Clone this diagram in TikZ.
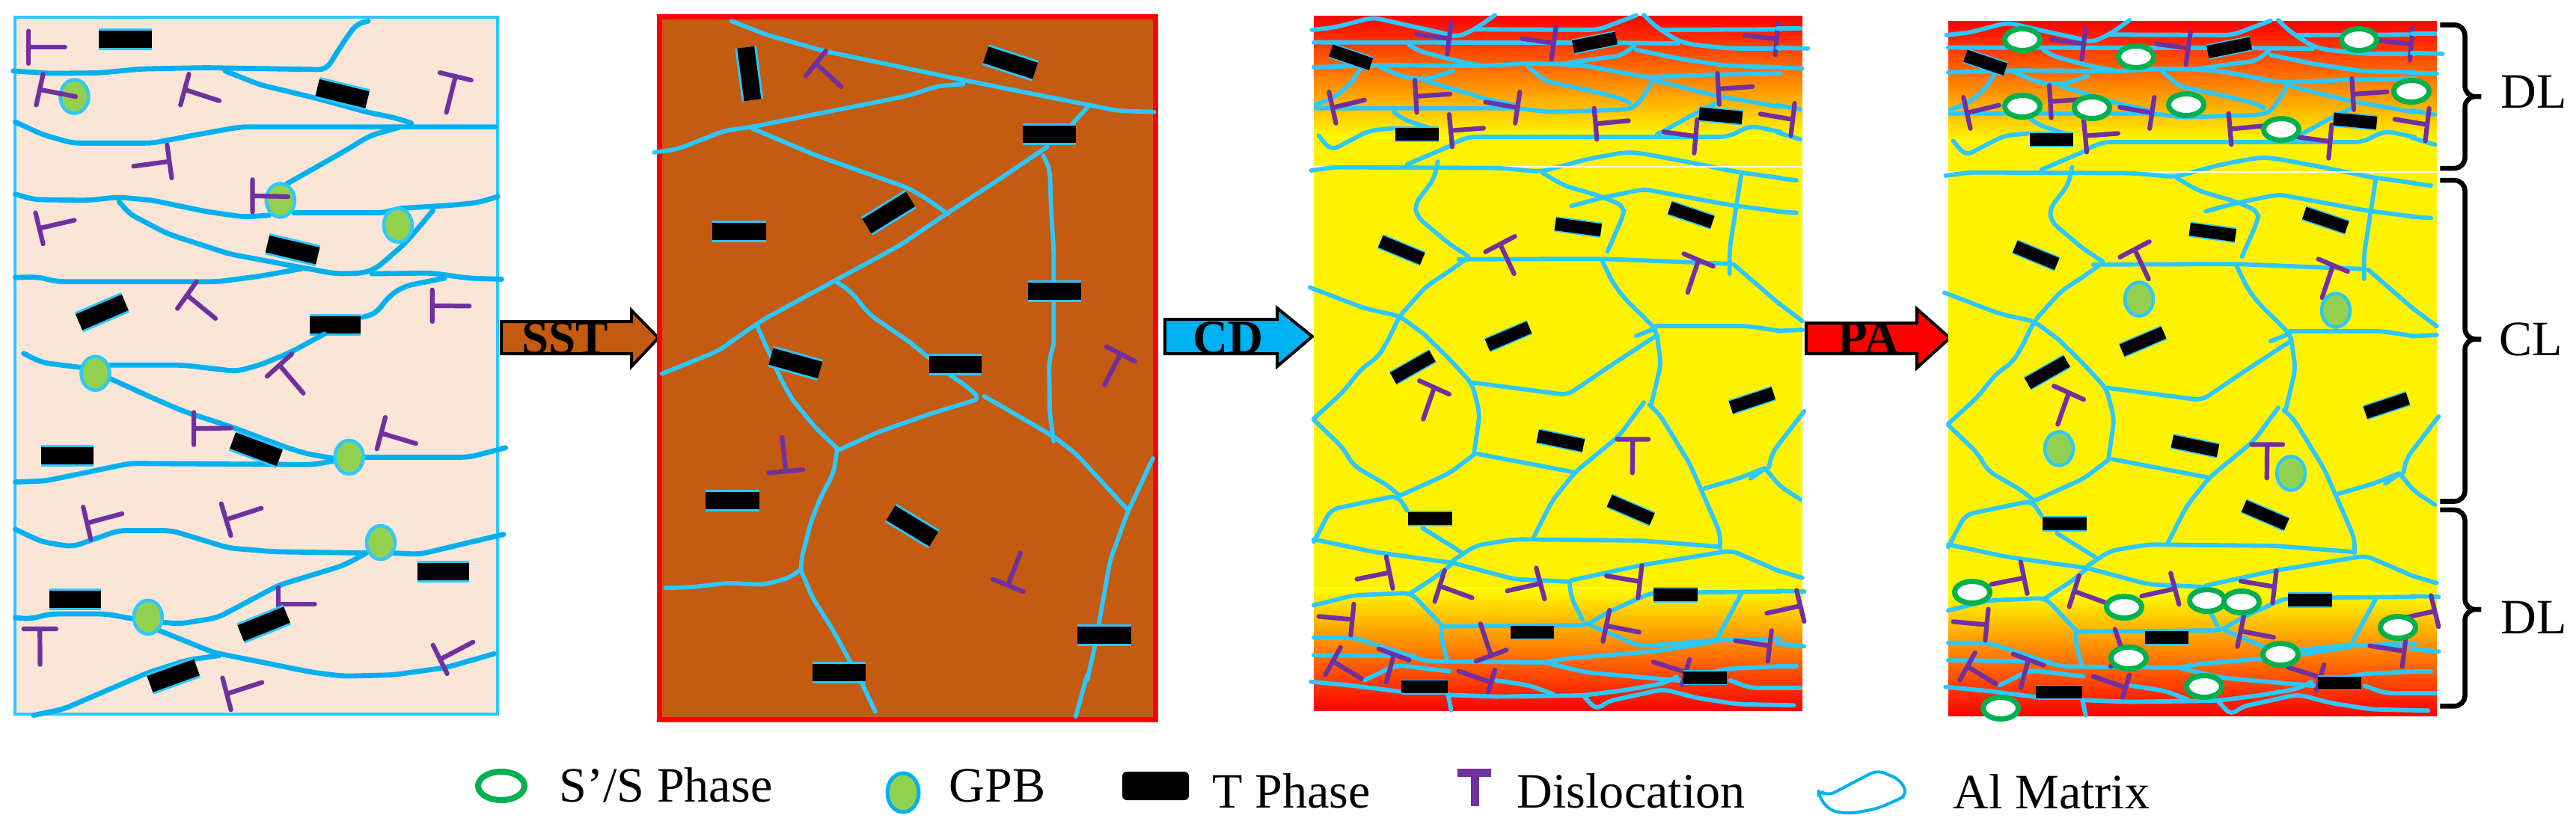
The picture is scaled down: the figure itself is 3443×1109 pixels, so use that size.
\documentclass[tikz,border=0pt]{standalone}
\usepackage{fontspec}
\setmainfont{Liberation Serif}
\usetikzlibrary{calc}
\definecolor{mapblue}{HTML}{00B0F0}
\definecolor{grainblue}{HTML}{2CC8FF}
\definecolor{dislpurple}{HTML}{7030A0}
\definecolor{gpbgreen}{HTML}{92D050}
\definecolor{sgreen}{HTML}{00B050}
\definecolor{peach}{HTML}{FBE5D6}
\definecolor{rust}{HTML}{C55A11}
\tikzset{
    cropA/.style 2 args={shift={(#1,#2)},x=0.0051cm,y=-0.003333cm},
    cropB/.style 2 args={shift={(#1,#2)},x=0.003333cm,y=-0.00574cm},
    cropC/.style 2 args={shift={(#1,#2)},x=0.00893cm,y=-0.003333cm},
    cropD/.style 2 args={shift={(#1,#2)},x=0.004464cm,y=-0.003333cm},
    grain/.style={draw=grainblue,line width=0.058cm,line cap=round,rounded corners=0.1cm},
    grainone/.style={grain,draw=mapblue,line width=0.068cm},
    disl/.style={draw=dislpurple,line width=0.062cm,line cap=round},
    tpo/.style={draw=grainblue,line width=0.29cm},
    tpi/.style={draw=black,line width=0.23cm},
    tso/.style={draw=grainblue,line width=0.205cm},
    tsi/.style={draw=black,line width=0.17cm},
    gpb/.style={draw=grainblue,line width=0.045cm,fill=gpbgreen},
    sring/.style={draw=sgreen,line width=0.07cm,fill=white},
    procarrow/.style={draw=black,line width=0.04cm,line join=miter},
    arrowlab/.style={font=\fontsize{18.5}{22}\selectfont\bfseries,inner sep=0pt,anchor=base},
    lab/.style={font=\fontsize{18.8}{22}\selectfont,inner sep=0pt,anchor=base west},
    brace/.style={draw=black,line width=0.065cm,rounded corners=0.14cm}
}
\newcommand{\tph}[2]{\draw[tpo] #1 -- #2; \draw[tpi] #1 -- #2;}
\newcommand{\tps}[2]{\draw[tso] #1 -- #2; \draw[tsi] #1 -- #2;}
\newcommand{\dsl}[3]{\draw[disl] #1 -- #2 ($#1!0.5!#2$) -- #3;}
\newcommand{\gpbat}[2]{\draw[gpb] (#1,#2) ellipse [x radius=0.19cm,y radius=0.225cm];}
\newcommand{\sat}[2]{\draw[sring] (#1,#2) ellipse [x radius=0.235cm,y radius=0.145cm];}
\newcommand{\zonemap}{%
    \shade[top color=red,bottom color=yellow] (1756,21) rectangle (2409,186);
    \fill[yellow] (1756,186) rectangle (2409,222);
    \fill[yellow] (1756,224) rectangle (2409,785);
    \shade[top color=yellow,bottom color=red] (1756,785) rectangle (2409,950);
    \begin{scope}[cropA={1580}{0}]
        \draw[grain] (340,120) -- (400,110) -- (500,70) -- (600,105) -- (690,135) -- (720,150) -- (770,115) -- (820,60);
        \draw[grain] (770,118) -- (1090,120) -- (1190,62);
        \draw[grain] (1210,60) -- (1240,105) -- (1300,165) -- (1340,180) -- (1440,195) -- (1568,195);
        \draw[grain] (1260,120) -- (1568,118);
        \draw[grain] (345,170) -- (1140,172) -- (1300,175);
        \draw[grain] (595,180) -- (620,205) -- (720,245) -- (790,265);
        \draw[grain] (345,270) -- (520,262) -- (790,265) -- (900,255) -- (990,258) -- (1090,235) -- (1150,225) -- (1185,185);
        \draw[grain] (1190,200) -- (1300,235) -- (1430,265) -- (1568,270);
        \draw[grain] (990,258) -- (1060,265) -- (1215,310) -- (1400,300) -- (1568,295);
        \draw[grain] (1230,320) -- (1400,385) -- (1568,430);
        \draw[grain] (905,265) -- (950,325) -- (1100,375) -- (1160,400) -- (1175,415);
        \draw[grain] (1230,335) -- (1195,420) -- (1170,440) -- (960,450) -- (880,435) -- (350,435);
        \draw[grain] (465,280) -- (440,340) -- (395,395) -- (350,420);
        \draw[grain] (520,270) -- (580,310) -- (640,320) -- (710,285);
        \draw[grain] (640,325) -- (790,395) -- (880,425);
        \draw[grain] (555,450) -- (580,480) -- (650,515);
        \draw[grain] (358,545) -- (390,605) -- (490,525) -- (555,515);
        \draw[grain] (705,580) -- (750,550) -- (1430,550) -- (1490,505) -- (1568,530);
        \draw[grain] (590,660) -- (705,585);
        \draw[grain] (1245,540) -- (1340,460) -- (1400,415);
        \draw[grain] (338,685) -- (400,672) -- (830,675) -- (940,690) -- (1060,640) -- (1160,612) -- (1200,615) -- (1340,655) -- (1450,690) -- (1568,715);
        \draw[grain] (670,650) -- (660,720) -- (610,820) -- (615,870) -- (700,980) -- (750,1030);
        \draw[grain] (725,1042) -- (1100,1040) -- (1430,1060);
        \draw[grain] (945,695) -- (1000,745) -- (1100,790) -- (1160,830) -- (1155,870) -- (1115,1010);
        \draw[grain] (1020,828) -- (1100,795) -- (1210,760) -- (1440,825) -- (1568,850);
        \draw[grain] (1465,705) -- (1435,1000) -- (1435,1100);
        \draw[grain] (1445,1062) -- (1568,1225);
        \draw[grain] (745,1040) -- (700,1090) -- (640,1150) -- (570,1270) -- (545,1350);
        \draw[grain] (335,1155) -- (480,1240) -- (570,1270) -- (640,1350);
        \draw[grain] (1100,1045) -- (1130,1140) -- (1160,1200) -- (1240,1320) -- (1245,1350);
        \draw[grain] (1240,1310) -- (1480,1310) -- (1568,1330);
        \draw[grain] (1240,1320) -- (1190,1350);
        \dsl{(705,92)}{(695,218)}{(615,138)}
        \dsl{(980,108)}{(968,238)}{(890,155)}
        \dsl{(385,370)}{(403,495)}{(478,402)}
        \dsl{(610,322)}{(615,452)}{(702,378)}
        \dsl{(885,370)}{(873,495)}{(795,410)}
        \dsl{(1403,295)}{(1408,420)}{(1495,348)}
        \dsl{(1080,435)}{(1087,560)}{(1170,485)}
        \dsl{(700,460)}{(708,590)}{(790,515)}
        \dsl{(1350,480)}{(1342,615)}{(1262,530)}
        \dsl{(1562,92)}{(1555,220)}{(1475,142)}
        \dsl{(795,1012)}{(872,950)}{(870,1100)}
        \dsl{(1315,1020)}{(1392,1070)}{(1325,1175)}
        \tps{(390,203)}{(495,258)}
        \tps{(1025,188)}{(1138,153)}
        \tps{(558,540)}{(672,540)}
        \tps{(1355,457)}{(1468,473)}
        \tps{(520,970)}{(630,1040)}
        \tps{(978,900)}{(1098,925)}
        \tps{(1278,835)}{(1390,893)}
    \end{scope}
    \begin{scope}[cropA={1580}{450}]
        \draw[grain] (545,0) -- (515,80) -- (470,130) -- (420,225) -- (345,330);
        \draw[grain] (640,0) -- (700,90) -- (760,190) -- (780,310) -- (765,470);
        \draw[grain] (760,185) -- (1010,235) -- (1120,120) -- (1240,0);
        \draw[grain] (1245,0) -- (1255,110) -- (1230,270);
        \draw[grain] (345,335) -- (420,445) -- (450,520) -- (540,600) -- (570,640);
        \draw[grain] (570,640) -- (700,550) -- (765,475);
        \draw[grain] (775,472) -- (1025,545);
        \draw[grain] (1210,265) -- (1145,400) -- (1030,545) -- (970,660) -- (920,810);
        \draw[grain] (1225,275) -- (1250,310) -- (1330,510) -- (1410,790) -- (1410,850);
        \draw[grain] (345,825) -- (390,695) -- (530,650) -- (565,640) -- (590,700);
        \draw[grain] (345,815) -- (500,865) -- (710,910);
        \draw[grain] (630,770) -- (730,865);
        \draw[grain] (710,900) -- (770,840) -- (870,815) -- (1200,820) -- (1410,845);
        \draw[grain] (710,910) -- (870,975) -- (1010,985);
        \draw[grain] (1015,985) -- (1020,1050) -- (1050,1140);
        \draw[grain] (1020,980) -- (1200,920) -- (1440,860) -- (1568,945);
        \draw[grain] (600,1030) -- (670,960) -- (710,910);
        \draw[grain] (345,1080) -- (450,1040) -- (600,1030) -- (680,1160);
        \draw[grain] (680,1165) -- (1060,1160) -- (1120,1105) -- (1230,1030) -- (1568,1025);
        \draw[grain] (680,1165) -- (680,1220) -- (695,1300);
        \draw[grain] (1070,1160) -- (1200,1245) -- (1400,1220) -- (1568,1215);
        \draw[grain] (1465,1035) -- (1400,1220);
        \draw[grain] (345,1210) -- (450,1210) -- (610,1290) -- (640,1305) -- (950,1310) -- (1000,1295) -- (1240,1265) -- (1400,1225);
        \draw[grain] (345,1280) -- (610,1285);
        \draw[grain] (480,1380) -- (560,1320) -- (700,1345);
        \draw[grain] (950,1310) -- (1060,1350) -- (1320,1385);
        \draw[grain] (1325,1370) -- (1430,1335) -- (1568,1325);
        \draw[grain] (1370,610) -- (1460,570) -- (1525,530);
        \dsl{(622,178)}{(700,232)}{(632,332)}
        \dsl{(1140,413)}{(1222,413)}{(1180,548)}
        \dsl{(535,885)}{(552,1012)}{(458,975)}
        \dsl{(688,940)}{(662,1065)}{(760,1050)}
        \dsl{(928,930)}{(950,1055)}{(852,1022)}
        \dsl{(1205,920)}{(1195,1050)}{(1112,962)}
        \dsl{(450,1075)}{(442,1200)}{(358,1125)}
        \dsl{(1120,1100)}{(1103,1225)}{(1198,1188)}
        \dsl{(770,1305)}{(850,1260)}{(782,1155)}
        \dsl{(1545,1182)}{(1535,1305)}{(1450,1222)}
        \dsl{(415,1250)}{(375,1360)}{(470,1375)}
        \dsl{(515,1255)}{(595,1300)}{(535,1390)}
        \dsl{(1330,1298)}{(1310,1400)}{(1235,1308)}
        \dsl{(820,1340)}{(800,1440)}{(725,1345)}
        \tps{(800,35)}{(910,-37)}
        \tps{(553,168)}{(656,78)}
        \tps{(932,400)}{(1052,438)}
        \tps{(1120,660)}{(1232,734)}
        \tps{(1438,285)}{(1550,228)}
        \tps{(592,732)}{(708,732)}
        \tps{(860,1188)}{(975,1188)}
        \tps{(1235,1038)}{(1352,1038)}
    \end{scope}
    \begin{scope}[cropA={2340}{0}]
        \draw[grain] (70,115) -- (130,115);
        \draw[grain] (70,192) -- (150,195);
        \draw[grain] (70,272) -- (135,275);
        \draw[grain] (70,422) -- (130,440);
        \draw[grain] (70,533) -- (130,560);
        \draw[grain] (70,715) -- (120,725);
        \draw[grain] (70,850) -- (120,855);
        \draw[grain] (70,1215) -- (135,1290);
        \draw[grain] (70,1330) -- (135,1325);
        \dsl{(115,415)}{(105,545)}{(25,458)}
    \end{scope}
    \begin{scope}[cropA={2340}{450}]
        \draw[grain] (140,300) -- (100,380) -- (55,470) -- (48,525);
        \draw[grain] (38,530) -- (75,600) -- (130,655);
        \draw[grain] (38,530) -- (0,570);
        \draw[grain] (70,940) -- (135,970);
        \draw[grain] (70,1022) -- (140,1025);
        \draw[grain] (70,1235) -- (140,1245);
        \draw[grain] (70,1325) -- (120,1325);
        \dsl{(120,1020)}{(140,1145)}{(42,1112)}
    \end{scope}
    \begin{scope}[cropC={600}{900}]
        \draw[grain] (1290,35) -- (1350,50) -- (1425,75);
        \draw[grain] (1495,88) -- (1568,95);
        \draw[grain] (1495,85) -- (1500,150);
        \tps{(1425,57)}{(1495,57)}
    \end{scope}
    \begin{scope}[cropC={2000}{900}]
        \draw[grain] (0,95) -- (130,90) -- (190,70) -- (250,42) -- (270,15);
        \draw[grain] (130,90) -- (150,150) -- (165,115) -- (250,65) -- (300,100) -- (360,125) -- (445,130);
        \draw[grain] (0,30) -- (50,50) -- (85,85);
        \draw[grain] (350,30) -- (380,60) -- (455,60);
        \tps{(280,18)}{(345,18)}
    \end{scope}
    \draw[white,line width=0.02cm] (2050,223) -- (2409,223);
}
\begin{document}
\begin{tikzpicture}[x=0.01cm,y=-0.01cm]
    \useasboundingbox (0,0) rectangle (3443,1109);
    \draw[fill=peach,draw=grainblue,line width=0.04cm] (20,23) rectangle (665,955);
    \begin{scope}[cropA={0}{0}]
        \dsl{(75,125)}{(75,255)}{(170,190)}
        \draw[grainone] (35,285) -- (130,295) -- (260,293) -- (370,277) -- (540,272) -- (855,280) -- (900,170) -- (935,95) -- (965,85);
        \draw[grainone] (590,285) -- (680,340) -- (830,395) -- (960,450) -- (1040,475) -- (1078,495);
        \draw[grainone] (40,490) -- (110,540) -- (190,575) -- (400,575) -- (520,540) -- (630,510) -- (1298,510);
        \draw[grainone] (1050,510) -- (970,545) -- (900,610) -- (750,740);
        \draw[grainone] (40,780) -- (90,802) -- (230,805) -- (310,792) -- (400,805) -- (540,850) -- (640,872) -- (705,865);
        \draw[grainone] (770,855) -- (1010,855) -- (1040,838) -- (1180,825) -- (1250,815) -- (1305,790);
        \draw[grainone] (312,810) -- (340,860) -- (440,940) -- (600,1020) -- (790,1075) -- (880,1100) -- (950,1098) -- (985,1080) -- (1060,980) -- (1100,910) -- (1135,845);
        \draw[grainone] (40,1115) -- (100,1113) -- (150,1132) -- (570,1132) -- (680,1110) -- (790,1080);
        \draw[grainone] (975,1100) -- (1130,1097) -- (1230,1118) -- (1315,1122);
        \draw[grainone] (1165,1118) -- (1060,1150) -- (1020,1190) -- (985,1260) -- (950,1275);
        \gpbat{195}{388}
        \gpbat{735}{805}
        \gpbat{1043}{905}
        \dsl{(113,298)}{(95,422)}{(198,388)}
        \dsl{(495,298)}{(473,422)}{(575,405)}
        \dsl{(1153,292)}{(1235,322)}{(1170,452)}
        \dsl{(438,582)}{(450,715)}{(350,668)}
        \dsl{(662,722)}{(662,852)}{(755,790)}
        \dsl{(93,855)}{(113,980)}{(195,885)}
        \dsl{(515,1132)}{(465,1240)}{(565,1280)}
        \dsl{(1133,1165)}{(1133,1292)}{(1230,1230)}
        \tph{(258,158)}{(398,158)}
        \tph{(832,352)}{(963,401)}
        \tph{(701,980)}{(833,1028)}
        \tph{(207,1295)}{(328,1215)}
        \tph{(812,1305)}{(945,1305)}
    \end{scope}
    \begin{scope}[cropA={0}{450}]
        \draw[grainone] (850,-10) -- (760,65) -- (680,115) -- (620,140) -- (480,115) -- (290,115);
        \draw[grainone] (62,68) -- (110,105) -- (215,125);
        \draw[grainone] (290,170) -- (390,240) -- (480,300) -- (610,365) -- (740,440) -- (800,470) -- (875,490);
        \draw[grainone] (40,585) -- (120,580) -- (340,510) -- (820,515) -- (875,500);
        \draw[grainone] (950,485) -- (1230,485) -- (1280,465) -- (1325,447);
        \draw[grainone] (40,775) -- (110,825) -- (190,845) -- (310,780) -- (450,780) -- (600,850) -- (720,865) -- (960,870);
        \draw[grainone] (1030,870) -- (1100,875) -- (1320,795);
        \draw[grainone] (955,875) -- (900,920) -- (730,1000) -- (570,1130) -- (470,1155) -- (425,1148);
        \draw[grainone] (40,1130) -- (80,1135) -- (130,1115) -- (280,1115) -- (350,1135);
        \draw[grainone] (415,1180) -- (560,1270) -- (820,1350) -- (900,1365) -- (1030,1360) -- (1170,1330) -- (1295,1275);
        \gpbat{250}{148}
        \gpbat{915}{485}
        \gpbat{998}{828}
        \gpbat{388}{1128}
        \dsl{(765,70)}{(700,160)}{(795,228)}
        \dsl{(508,305)}{(508,435)}{(605,368)}
        \dsl{(1010,325)}{(988,452)}{(1090,430)}
        \dsl{(218,685)}{(238,815)}{(320,712)}
        \dsl{(580,672)}{(605,800)}{(685,690)}
        \dsl{(730,1010)}{(730,1140)}{(825,1075)}
        \dsl{(62,1175)}{(147,1175)}{(105,1318)}
        \dsl{(1135,1240)}{(1172,1355)}{(1240,1228)}
        \tph{(108,478)}{(245,478)}
        \tph{(610,418)}{(733,488)}
        \tph{(1095,945)}{(1230,945)}
        \tph{(130,1055)}{(265,1055)}
        \tph{(631,1193)}{(752,1118)}
    \end{scope}
    \begin{scope}[cropD={0}{880}]
        \draw[grainone] (655,-10) -- (560,8) -- (440,60) -- (190,205) -- (100,230);
        \dsl{(665,80)}{(690,208)}{(783,98)}
        \tph{(448,105)}{(588,37)}
    \end{scope}
    \draw[procarrow,fill=rust] (670,430) -- (844,430) -- (844,415) -- (880,452) -- (844,490) -- (844,473) -- (670,473) -- cycle;
    \draw[procarrow,fill=mapblue] (1557,427) -- (1707,427) -- (1707,412) -- (1754,450) -- (1707,490) -- (1707,473) -- (1557,473) -- cycle;
    \draw[procarrow,fill=red] (2414,432) -- (2562,432) -- (2562,413) -- (2606,452) -- (2562,492) -- (2562,473) -- (2414,473) -- cycle;
    \node[arrowlab] (sst) at (755,473) {SST};
    \node[arrowlab] (cd) at (1641,473) {CD};
    \node[arrowlab] (pa) at (2497,473) {PA};
    \draw[fill=rust,draw=red,line width=0.07cm] (881.5,22.5) rectangle (1544.5,962.5);
    \begin{scope}[cropA={780}{0}]
        \draw[grain] (388,85) -- (480,140) -- (630,205) -- (990,320) -- (1400,445) -- (1495,450);
        \draw[grain] (185,612) -- (245,600) -- (370,525) -- (440,510) -- (850,385) -- (930,345) -- (995,338);
        \draw[grain] (440,515) -- (610,625) -- (850,755) -- (900,800) -- (955,860);
        \draw[grain] (1320,432) -- (1280,500);
        \draw[grain] (1215,590) -- (1080,730) -- (950,860) -- (830,985) -- (470,1285) -- (380,1380);
        \draw[grain] (1205,625) -- (1222,680) -- (1225,830) -- (1232,1000) -- (1232,1380);
        \draw[grain] (660,1130) -- (700,1170) -- (750,1265) -- (860,1380);
        \draw[grain] (455,1310) -- (475,1380);
        \dsl{(635,205)}{(582,305)}{(675,348)}
        \tph{(1152,540)}{(1290,540)}
        \tph{(1165,1170)}{(1305,1170)}
        \tph{(425,190)}{(443,402)}
        \tph{(1054,220)}{(1184,285)}
        \tph{(857,800)}{(742,909)}
        \tph{(338,930)}{(478,930)}
    \end{scope}
    \begin{scope}[cropA={780}{450}]
        \draw[grain] (380,30) -- (350,60) -- (205,150);
        \draw[grain] (475,30) -- (495,90) -- (510,150) -- (545,250) -- (610,370) -- (665,450);
        \draw[grain] (860,30) -- (905,85);
        \draw[grain] (960,155) -- (1000,195) -- (1040,250) -- (920,305) -- (770,385) -- (670,455);
        \draw[grain] (665,455) -- (655,550) -- (620,650) -- (595,750) -- (570,900) -- (570,940);
        \draw[grain] (215,1010) -- (280,1008) -- (380,990) -- (470,998) -- (540,970) -- (570,935);
        \draw[grain] (570,940) -- (600,1050) -- (650,1170) -- (700,1310);
        \draw[grain] (1232,30) -- (1220,100) -- (1222,310) -- (1232,420);
        \draw[grain] (1050,240) -- (1230,400) -- (1290,470) -- (1425,695);
        \draw[grain] (1492,490) -- (1425,710) -- (1380,900) -- (1350,1160);
        \draw[grain] (1340,1245) -- (1320,1380);
        \dsl{(1370,40)}{(1445,100)}{(1365,195)}
        \dsl{(485,548)}{(575,535)}{(520,405)}
        \dsl{(1072,975)}{(1152,1025)}{(1145,870)}
        \tph{(320,660)}{(460,660)}
        \tph{(905,112)}{(1043,112)}
        \tph{(491,80)}{(620,135)}
        \tph{(805,709)}{(918,814)}
        \tph{(1295,1200)}{(1435,1200)}
        \tph{(600,1350)}{(740,1350)}
    \end{scope}
    \begin{scope}[cropC={600}{900}]
        \draw[grain] (955,10) -- (938,175);
        \draw[grain] (618,40) -- (638,155);
    \end{scope}
    \zonemap
    \begin{scope}[shift={(848,7)}]
        \zonemap
    \end{scope}
    \gpbat{2859}{400}
    \gpbat{3122}{415}
    \gpbat{2752}{600}
    \gpbat{3062}{633}
    \sat{2703}{53}
    \sat{2855}{76}
    \sat{2703}{142}
    \sat{2796}{144}
    \sat{2922}{140}
    \sat{3049}{173}
    \sat{3153}{53}
    \sat{3223}{122}
    \sat{2636}{792}
    \sat{2839}{812}
    \sat{2950}{803}
    \sat{2996}{805}
    \sat{2845}{880}
    \sat{3048}{875}
    \sat{3205}{839}
    \sat{2946}{918}
    \sat{2674}{947}
    \begin{scope}[cropB={3000}{0}]
        \draw[brace] (785,58) -- (885,58) -- (885,225) -- (975,225) -- (885,225) -- (885,392) -- (785,392);
        \draw[brace] (785,420) -- (885,420) -- (885,790) -- (975,790) -- (885,790) -- (885,1168) -- (785,1168);
        \draw[brace] (785,1188) -- (885,1188) -- (885,1420) -- (975,1420) -- (885,1420) -- (885,1645) -- (785,1645);
    \end{scope}
    \node[lab] (dltop) at (3342,144) {DL};
    \node[lab] (cl) at (3340,475) {CL};
    \node[lab] (dlbot) at (3342,847) {DL};
    \draw[sring,line width=0.08cm] (670,1051) ellipse [x radius=0.31cm,y radius=0.19cm];
    \node[lab] (sphase) at (747,1072) {S’/S Phase};
    \draw[draw=mapblue,line width=0.05cm,fill=gpbgreen] (1207,1060) ellipse [x radius=0.21cm,y radius=0.26cm];
    \node[lab] (gpblab) at (1268,1072) {GPB};
    \fill[black,rounded corners=0.06cm] (1500,1032) rectangle (1589,1070);
    \node[lab] (tphase) at (1620,1080) {T Phase};
    \draw[disl,line width=0.11cm,line cap=butt] (1948,1033) -- (1993,1033) (1971,1033) -- (1971,1078);
    \node[lab] (dislab) at (2027,1080) {Dislocation};
    \begin{scope}[cropC={2000}{900}]
        \draw[draw=mapblue,line width=0.04cm,rounded corners=0.1cm] (482,468) -- (495,495) -- (570,390) -- (605,430) -- (615,490) -- (600,510) -- (570,545) -- (530,565) -- (500,555) -- (483,500) -- cycle;
    \end{scope}
    \node[lab] (almatrix) at (2610,1081) {Al Matrix};
\end{tikzpicture}
\end{document}
